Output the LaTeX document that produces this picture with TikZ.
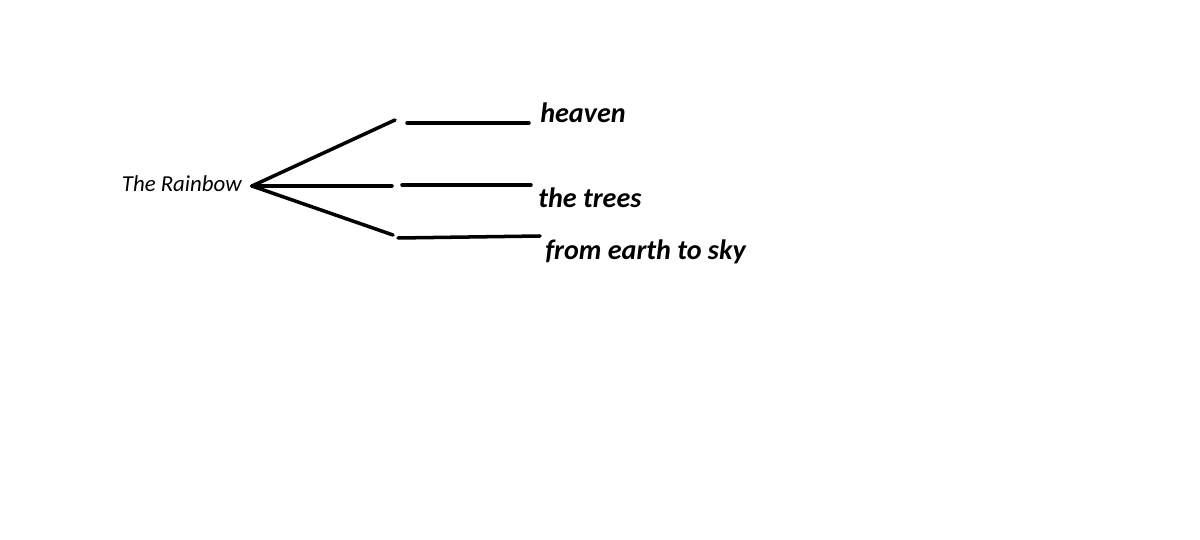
\documentclass[tikz,border=0pt]{standalone}
\usepackage{fontspec}
\setmainfont{Carlito}
\usepackage{tikz}
\usetikzlibrary{positioning,calc}

\tikzset{
    stroke/.style={line width=2pt, line cap=round},
    answer/.style={font=\fontsize{16}{19}\selectfont\bfseries\itshape, inner sep=0pt, anchor=base west},
    title/.style={font=\fontsize{13}{16}\selectfont\itshape, inner sep=0pt, anchor=base east}
}

\begin{document}
\begin{tikzpicture}[x=0.02cm, y=-0.02cm]
    \useasboundingbox (0,0) rectangle (1200,540);

    % Root
    \coordinate (hub) at (252,186);
    \node[title] (rainbow) at (242,192) {The Rainbow};

    % Branches
    \coordinate (b1) at (395,120);
    \coordinate (b2) at (392,186);
    \coordinate (b3) at (393,235);
    \draw[stroke] (hub) -- (b1);
    \draw[stroke] (hub) -- (b2);
    \draw[stroke] (hub) -- (b3);

    % Blanks
    \coordinate (s1) at (407,123);
    \coordinate (e1) at (529,123);
    \coordinate (s2) at (402,185);
    \coordinate (e2) at (531,185);
    \coordinate (s3) at (398,238);
    \coordinate (e3) at (540,236);
    \draw[stroke] (s1) -- (e1);
    \draw[stroke] (s2) -- (e2);
    \draw[stroke] (s3) -- (e3);

    % Answers
    \node[answer] (heaven) at (540,123) {heaven};
    \node[answer] (trees) at (538,208) {the trees};
    \node[answer] (sky) at (545,260) {from earth to sky};
\end{tikzpicture}
\end{document}
